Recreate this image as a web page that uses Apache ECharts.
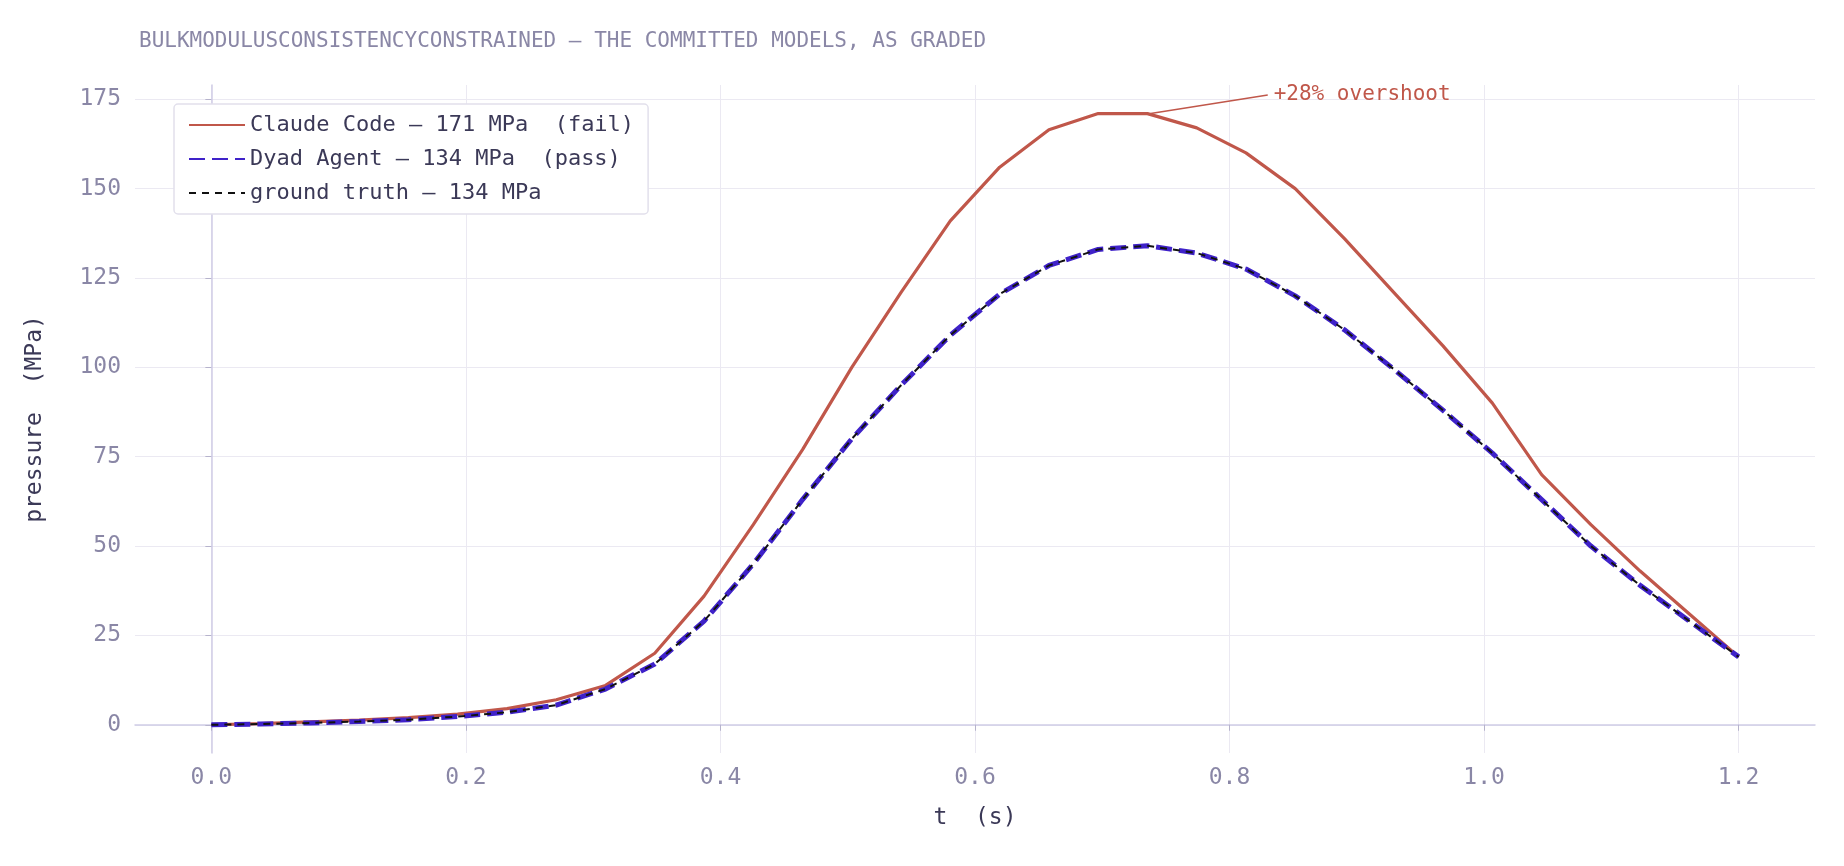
<!DOCTYPE html>
<html><head><meta charset="utf-8">
<script src="https://cdn.jsdelivr.net/npm/echarts@6/dist/echarts.min.js"></script>
<style>html,body{margin:0;background:#fff}#c{width:1844px;height:866px}</style>
</head><body><div id="c"></div>
<script>
const N = 32;
const tValues = Array.from({length: N}, (_, i) => +(i * 1.2 / 31).toFixed(4));
const claude = [0,0.3,0.8,1.3,2,3,4.5,7,11,20,36,56,77,100,121,141,156,166.5,171,171,167,160,150,136,121,106,90,70,56,43,31,19];
const dyad = [0,0.2,0.5,0.9,1.4,2.3,3.5,5.5,10,17,29,45,63,80,95,109,120.5,128.5,133,134,132,127.5,120,110.5,99.5,88,76,63,50,39,29,19];
const truth = dyad.slice();
const yTicks = [0,25,50,75,100,125,150,175];
const xTicks = [0,0.2,0.4,0.6,0.8,1.0,1.2];
const font = "'DejaVu Sans Mono', monospace";
const pair = a => a.map((v, i) => [tValues[i], v]);
const chart = echarts.init(document.getElementById('c'));
chart.setOption({
  animation: false,
  title: {text: 'BULKMODULUSCONSISTENCYCONSTRAINED — THE COMMITTED MODELS, AS GRADED', left: 134, top: 26,
    textStyle: {fontFamily: font, fontSize: 21, fontWeight: 'normal', color: '#8a87a6'}},
  grid: {left: 135, right: 29, top: 85, bottom: 113},
  legend: {orient: 'vertical', left: 174, top: 104, padding: [10, 14], itemGap: 12, itemWidth: 56, itemHeight: 14,
    borderColor: '#e2e0ec', borderWidth: 1.5, borderRadius: 4, backgroundColor: '#fff',
    itemStyle: {opacity: 0},
    textStyle: {fontFamily: font, fontSize: 22, color: '#3b3957'}},
  xAxis: {type: 'value', min: -0.06, max: 1.26, name: 't  (s)', nameLocation: 'middle', nameGap: 54,
    nameTextStyle: {fontFamily: font, fontSize: 23, color: '#3b3957'},
    axisLine: {lineStyle: {color: '#d0cde6', width: 1.5}},
    axisTick: {customValues: xTicks, length: 6, lineStyle: {color: '#b6b3cc'}},
    axisLabel: {customValues: xTicks, formatter: v => v.toFixed(1), fontFamily: font, fontSize: 23, color: '#8a87a6', margin: 14},
    splitLine: {lineStyle: {color: '#ebe9f2'}}},
  yAxis: {type: 'value', min: -7.9, max: 179, name: 'pressure  (MPa)', nameLocation: 'middle', nameGap: 88,
    nameTextStyle: {fontFamily: font, fontSize: 23, color: '#3b3957'},
    axisLine: {show: true, lineStyle: {color: '#d0cde6', width: 1.5}},
    axisTick: {show: true, customValues: yTicks, length: 6, lineStyle: {color: '#b6b3cc'}},
    axisLabel: {customValues: yTicks, fontFamily: font, fontSize: 23, color: '#8a87a6', margin: 14},
    splitLine: {lineStyle: {color: '#ebe9f2'}}},
  series: [
    {name: 'Claude Code — 171 MPa  (fail)', type: 'line', data: pair(claude), symbol: 'none', smooth: false,
      lineStyle: {color: '#c0574a', width: 3.2}, itemStyle: {color: '#c0574a'},
      markLine: {silent: true, symbol: 'none', label: {show: true, position: 'end', formatter: '+28% overshoot',
          fontFamily: font, fontSize: 21, color: '#c0574a', distance: 6},
        lineStyle: {color: '#c0574a', width: 1.5, type: 'solid'},
        data: [[{coord: [0.738, 171]}, {coord: [0.83, 176.2]}]]}},
    {name: 'Dyad Agent — 134 MPa  (pass)', type: 'line', data: pair(dyad), symbol: 'none',
      lineStyle: {color: '#3f22c9', width: 5, type: [16, 7]}, itemStyle: {color: '#3f22c9'}},
    {name: 'ground truth — 134 MPa', type: 'line', data: pair(truth), symbol: 'none',
      lineStyle: {color: '#111', width: 2, type: [7, 6]}, itemStyle: {color: '#111'}}
  ]
});
</script></body></html>
